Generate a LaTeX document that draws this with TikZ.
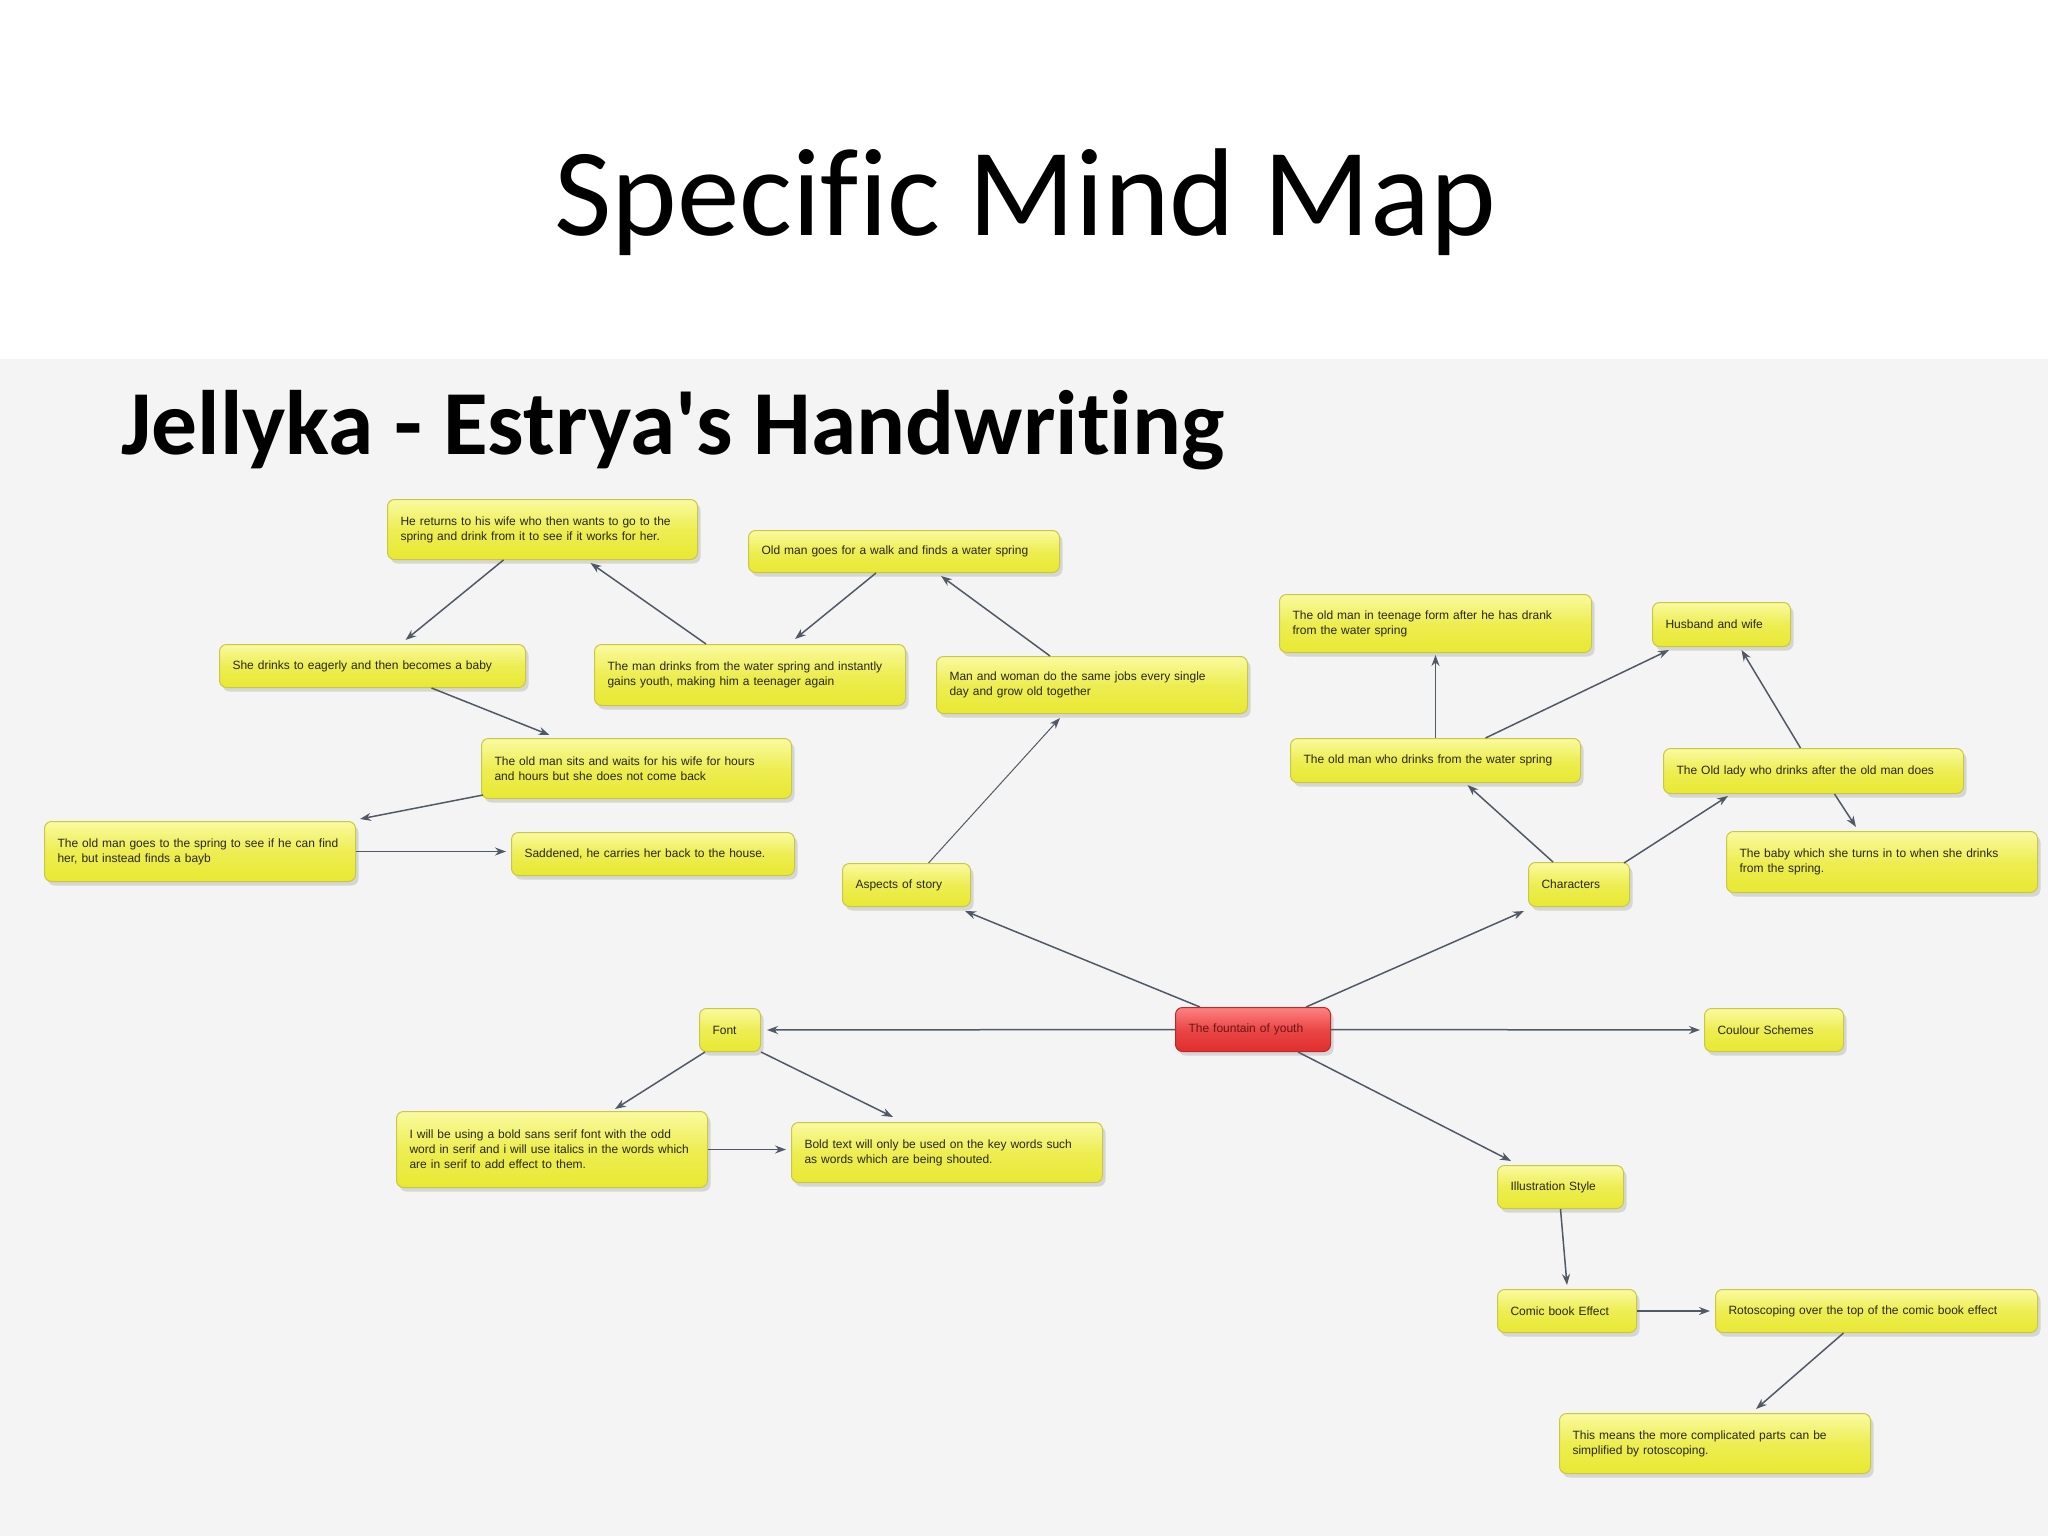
\documentclass[tikz,border=0pt]{standalone}
\usepackage{fontspec}
\setmainfont{Carlito}[Ligatures=NoCommon]
\newfontfamily\boxfont{Liberation Sans}
\usetikzlibrary{shadows,calc,arrows.meta}
\definecolor{bgmap}{RGB}{244,244,244}
\definecolor{yedge}{RGB}{200,200,70}
\definecolor{ytop}{RGB}{250,250,160}
\definecolor{ybot}{RGB}{232,232,50}
\definecolor{rtop}{RGB}{255,130,130}
\definecolor{rbot}{RGB}{225,45,45}
\definecolor{redge}{RGB}{190,40,40}
\definecolor{btext}{RGB}{40,40,28}
\definecolor{arrowc}{RGB}{80,90,102}
\tikzset{
  ybox/.style={rounded corners=7pt, draw=yedge, line width=1pt,
    top color=ytop, bottom color=ybot, middle color=ybot!70!ytop,
    drop shadow={shadow xshift=3pt, shadow yshift=-4pt, opacity=0.25},
    font=\boxfont\fontsize{12}{15}\selectfont, text=btext,
    align=left, inner xsep=13pt, inner ysep=0pt, anchor=north west},
  rbox/.style={ybox, draw=redge, top color=rtop, bottom color=rbot, middle color=rbot!70!rtop, text={rgb,255:red,110;green,20;blue,20}},
  conn/.style={draw=arrowc, line width=1.5pt, -{Stealth[length=11pt,width=8pt]}},
}
\begin{document}
\begin{tikzpicture}[x=1pt,y=-1pt]
\useasboundingbox (0,0) rectangle (2048,1536);
\fill[white] (0,0) rectangle (2048,1536);
\fill[bgmap] (0,359) rectangle (2048,1536);
\node[anchor=base west, inner sep=0pt, font=\fontsize{125}{150}\selectfont] (title) at (554,235) {Specific Mind Map};
\node[anchor=base west, inner sep=0pt, font=\bfseries\fontsize{91.5}{110}\selectfont] (sub) at (121,454) {Jellyka - Estrya\textquotesingle s Handwriting};
% nodes
\node[ybox, text width=284pt, minimum height=60pt] (ret) at (387,499) {He returns to his wife who then wants to go to the\\spring and drink from it to see if it works for her.};
\node[ybox, text width=285pt, minimum height=42pt] (walk) at (748,530) {Old man goes for a walk and finds a water spring};
\node[ybox, text width=280pt, minimum height=43pt] (she) at (219,644) {She drinks to eagerly and then becomes a baby};
\node[ybox, text width=285pt, minimum height=61pt] (mandr) at (594,644) {The man drinks from the water spring and instantly\\gains youth, making him a teenager again};
\node[ybox, text width=285pt, minimum height=57pt] (mw) at (936,656) {Man and woman do the same jobs every single\\day and grow old together};
\node[ybox, text width=284pt, minimum height=60pt] (sits) at (481,738) {The old man sits and waits for his wife for hours\\and hours but she does not come back};
\node[ybox, text width=285pt, minimum height=60pt] (goes) at (44,821) {The old man goes to the spring to see if he can find\\her, but instead finds a bayb};
\node[ybox, text width=257pt, minimum height=43pt] (sad) at (511,832) {Saddened, he carries her back to the house.};
\node[ybox, text width=102pt, minimum height=43pt] (asp) at (842,863) {Aspects of story};
\node[ybox, text width=286pt, minimum height=58pt] (teen) at (1279,594) {The old man in teenage form after he has drank\\from the water spring};
\node[ybox, text width=112pt, minimum height=44pt] (hw) at (1652,602) {Husband and wife};
\node[ybox, text width=264pt, minimum height=44pt] (whod) at (1290,738) {The old man who drinks from the water spring};
\node[ybox, text width=274pt, minimum height=45pt] (lady) at (1663,748) {The Old lady who drinks after the old man does};
\node[ybox, text width=285pt, minimum height=61pt] (baby) at (1726,831) {The baby which she turns in to when she drinks\\from the spring.};
\node[ybox, text width=75pt, minimum height=44pt] (chars) at (1528,862) {Characters};
\node[rbox, text width=129pt, minimum height=44pt] (fount) at (1175,1007) {The fountain of youth};
\node[ybox, text width=35pt, minimum height=43pt] (font) at (699,1008) {Font};
\node[ybox, text width=113pt, minimum height=43pt] (col) at (1704,1008) {Coulour Schemes};
\node[ybox, text width=285pt, minimum height=76pt] (iwill) at (396,1111) {I will be using a bold sans serif font with the odd\\word in serif and i will use italics in the words which\\are in serif to add effect to them.};
\node[ybox, text width=285pt, minimum height=60pt] (bold) at (791,1122) {Bold text will only be used on the key words such\\as words which are being shouted.};
\node[ybox, text width=100pt, minimum height=43pt] (ill) at (1497,1165) {Illustration Style};
\node[ybox, text width=113pt, minimum height=43pt] (comic) at (1497,1289) {Comic book Effect};
\node[ybox, text width=296pt, minimum height=43pt] (roto) at (1715,1289) {Rotoscoping over the top of the comic book effect};
\node[ybox, text width=285pt, minimum height=60pt] (means) at (1559,1413) {This means the more complicated parts can be\\simplified by rotoscoping.};
% connectors
\draw[conn] ($(fount.north west)+(25,0)$) -- ($(asp.south east)+(-6,4)$);
\draw[conn] ($(fount.north east)+(-25,0)$) -- ($(chars.south west)+(-4,4)$);
\draw[conn] (fount.west) -- ($(font.east)+(6,0)$);
\draw[conn] (fount.east) -- ($(col.west)+(-4,0)$);
\draw[conn] ($(fount.south east)+(-33,0)$) -- ($(ill.north west)+(14,-4)$);
\draw[conn, line width=1pt] ($(asp.north)+(22,0)$) -- ($(mw.south)+(-32,4)$);
\draw[conn] ($(mw.north)+(-42,0)$) -- ($(walk.south)+(37,3)$);
\draw[conn] ($(walk.south)+(-28,0)$) -- ($(mandr.north)+(45,-5)$);
\draw[conn] ($(mandr.north)+(-44,0)$) -- ($(ret.south)+(48,3)$);
\draw[conn] ($(ret.south)+(-39,0)$) -- ($(she.north)+(33,-4)$);
\draw[conn] ($(she.south)+(59,0)$) -- ($(sits.north)+(-87,-3)$);
\draw[conn] ($(sits.south west)+(2,-4)$) -- ($(goes.north east)+(4,-2)$);
\draw[conn] (goes.east) -- ($(goes.east -| sad.west)+(-5,0)$);
\draw[conn] ($(chars.north)+(-26,0)$) -- ($(whod.south)+(32,2)$);
\draw[conn] ($(chars.north east)+(-6,1)$) -- ($(lady.south west)+(65,2)$);
\draw[conn] (whod.north) -- ($(teen.south)+(0,2)$);
\draw[conn] ($(whod.north)+(50,0)$) -- ($(hw.south west)+(17,3)$);
\draw[conn] ($(lady.north)+(-13,0)$) -- ($(hw.south)+(20,3)$);
\draw[conn] ($(lady.south)+(21,0)$) -- ($(baby.north)+(-26,-4)$);
\draw[conn] ($(font.south west)+(6,0)$) -- ($(iwill.north)+(63,-2)$);
\draw[conn] (font.south east) -- ($(bold.north)+(-54,-5)$);
\draw[conn] (iwill.east) -- ($(iwill.east -| bold.west)+(-5,0)$);
\draw[conn] (ill.south) -- ($(comic.north)+(0,-4)$);
\draw[conn] (comic.east) -- ($(roto.west)+(-5,0)$);
\draw[conn] ($(roto.south)+(-33,0)$) -- ($(means.north)+(41,-4)$);
\end{tikzpicture}
\end{document}
